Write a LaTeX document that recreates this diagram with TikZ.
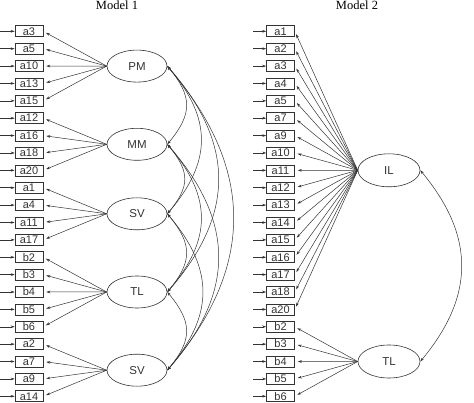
\documentclass[tikz,border=0pt]{standalone}
\usepackage{fontspec}
\setmainfont{Liberation Sans}
\newfontfamily\titlefont{Liberation Serif}
\usetikzlibrary{shapes.geometric,arrows.meta}
\definecolor{ink}{HTML}{333333}
\begin{document}
\begin{tikzpicture}[x=1pt,y=-1pt,
  obs/.style={draw=ink, line width=0.6pt, minimum width=28pt, minimum height=11pt, inner sep=0pt,
    text=ink, font=\fontsize{11}{11}\selectfont, text height=7.6pt, text depth=0pt},
  lat/.style={draw=ink, ellipse, line width=0.6pt, minimum width=60pt, minimum height=32pt, inner sep=0pt,
    text=ink, font=\fontsize{11.5}{11.5}\selectfont},
  tip/.tip={Stealth[length=4pt,width=2.6pt]},
  load/.style={-tip, draw=ink, line width=0.5pt, shorten >=3pt},
  err/.style={-tip, draw=ink, line width=0.5pt},
  cov/.style={tip-tip, draw=ink, line width=0.5pt},
  ttl/.style={font=\titlefont\fontsize{12.5}{12.5}\selectfont, inner sep=0pt, anchor=base}]
\useasboundingbox (0,0) rectangle (474,403);

% titles
\node[ttl] (t1) at (117,9.8) {Model 1};
\node[ttl] (t2) at (357,9.8) {Model 2};

% Model 1 latents
\node[lat] (PM)  at (137,66.1)  {PM};
\node[lat] (MM)  at (137,144.3) {MM};
\node[lat] (SV)  at (137,213.8) {SV};
\node[lat] (TL)  at (137,292.0) {TL};
\node[lat] (SVb) at (137,370.2) {SV};

\foreach \k/\lab/\lat in {0/a3/PM,1/a5/PM,2/a10/PM,3/a13/PM,4/a15/PM,
  5/a12/MM,6/a16/MM,7/a18/MM,8/a20/MM,
  9/a1/SV,10/a4/SV,11/a11/SV,12/a17/SV,
  13/b2/TL,14/b3/TL,15/b4/TL,16/b5/TL,17/b6/TL,
  18/a2/SVb,19/a7/SVb,20/a9/SVb,21/a14/SVb}{
  \node[obs] (m1\lab) at (29,{31.3+17.38*\k}) {\lab};
  \coordinate (e1\lab) at (0,{31.3+17.38*\k});
  \draw[err] (e1\lab) -- (m1\lab.west);
  \draw[load] (\lat.west) -- (m1\lab.east);
}

% Model 1 covariances
\draw[cov] (PM.east) .. controls +(25.3,30.4) and +(25.3,-30.4) .. (MM.east);
\draw[cov] (PM.east) .. controls +(45,52.3) and +(45,-52.3) .. (SV.east);
\draw[cov] (PM.east) .. controls +(68,77.4) and +(68,-77.4) .. (TL.east);
\draw[cov] (PM.east) .. controls +(88,102.4) and +(88,-102.4) .. (SVb.east);
\draw[cov] (MM.east) .. controls +(22.8,27.4) and +(22.8,-27.4) .. (SV.east);
\draw[cov] (MM.east) .. controls +(45,52.3) and +(45,-52.3) .. (TL.east);
\draw[cov] (MM.east) .. controls +(68,77.4) and +(68,-77.4) .. (SVb.east);
\draw[cov] (SV.east) .. controls +(25.3,30.4) and +(25.3,-30.4) .. (TL.east);
\draw[cov] (SV.east) .. controls +(47,55.2) and +(47,-55.2) .. (SVb.east);
\draw[cov] (TL.east) .. controls +(25.3,30.4) and +(25.3,-30.4) .. (SVb.east);

% Model 2 latents
\node[lat, minimum width=62pt, minimum height=33pt] (IL)    at (389,170.3) {IL};
\node[lat, minimum width=62pt, minimum height=33pt] (TLtwo) at (389,361.5) {TL};

\foreach \k/\lab/\lat in {0/a1/IL,1/a2/IL,2/a3/IL,3/a4/IL,4/a5/IL,5/a7/IL,6/a9/IL,
  7/a10/IL,8/a11/IL,9/a12/IL,10/a13/IL,11/a14/IL,12/a15/IL,13/a16/IL,14/a17/IL,
  15/a18/IL,16/a20/IL,
  17/b2/TLtwo,18/b3/TLtwo,19/b4/TLtwo,20/b5/TLtwo,21/b6/TLtwo}{
  \node[obs] (m2\lab) at (280.5,{31.3+17.38*\k}) {\lab};
  \coordinate (e2\lab) at (253,{31.3+17.38*\k});
  \draw[err] (e2\lab) -- (m2\lab.west);
  \draw[load] (\lat.west) -- (m2\lab.east);
}

\draw[cov] (IL.east) .. controls +(54.7,65.6) and +(54.7,-65.6) .. (TLtwo.east);
\end{tikzpicture}
\end{document}
